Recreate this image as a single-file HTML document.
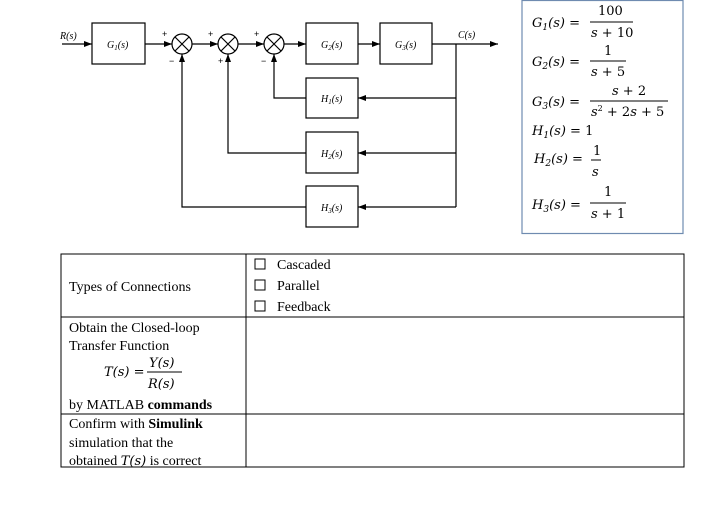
<!DOCTYPE html>
<html><head><meta charset="utf-8"><style>
body{margin:0;background:#fff;}
svg{display:block;}
.t{font-family:"Liberation Serif",serif;font-size:14px;fill:#000;}
.d{font-family:"Liberation Serif",serif;font-style:italic;font-size:10px;fill:#000;}
.m{font-family:"DejaVu Serif","Liberation Serif",serif;font-size:13px;fill:#000;}
.mi{font-family:"DejaVu Serif","Liberation Serif",serif;font-style:italic;font-size:13px;fill:#000;}
</style></head><body>
<svg width="707" height="527" viewBox="0 0 707 527" xmlns="http://www.w3.org/2000/svg">
<defs><marker id="a" markerWidth="8" markerHeight="6" refX="8" refY="3" orient="auto" markerUnits="userSpaceOnUse"><path d="M0,0 L8,3 L0,6z" fill="#000"/></marker></defs>
<g stroke="#000" stroke-width="1.2" fill="none">
<rect x="92" y="23" width="53" height="41"/>
<rect x="306" y="23" width="52" height="41"/>
<rect x="380" y="23" width="52" height="41"/>
<rect x="306" y="78" width="52" height="40"/>
<rect x="306" y="132" width="52" height="41"/>
<rect x="306" y="186" width="52" height="41"/>
<circle cx="182" cy="44" r="10"/><circle cx="228" cy="44" r="10"/><circle cx="274" cy="44" r="10"/>
<path d="M175,37 L189,51 M189,37 L175,51 M221,37 L235,51 M235,37 L221,51 M267,37 L281,51 M281,37 L267,51"/>
<line x1="62" y1="44" x2="92" y2="44" marker-end="url(#a)"/>
<line x1="145" y1="44" x2="172" y2="44" marker-end="url(#a)"/>
<line x1="192" y1="44" x2="218" y2="44" marker-end="url(#a)"/>
<line x1="238" y1="44" x2="264" y2="44" marker-end="url(#a)"/>
<line x1="284" y1="44" x2="306" y2="44" marker-end="url(#a)"/>
<line x1="358" y1="44" x2="380" y2="44" marker-end="url(#a)"/>
<line x1="432" y1="44" x2="498" y2="44" marker-end="url(#a)"/>
<polyline points="456,44 456,207"/>
<line x1="456" y1="98" x2="358" y2="98" marker-end="url(#a)"/>
<line x1="456" y1="153" x2="358" y2="153" marker-end="url(#a)"/>
<line x1="456" y1="207" x2="358" y2="207" marker-end="url(#a)"/>
<polyline points="306,98 274,98 274,54" marker-end="url(#a)"/>
<polyline points="306,153 228,153 228,54" marker-end="url(#a)"/>
<polyline points="306,207 182,207 182,54" marker-end="url(#a)"/>
</g>
<text class="d" x="60" y="39">R(s)</text>
<text class="d" x="107" y="48">G<tspan font-size="7" dy="2">1</tspan><tspan dy="-2">(s)</tspan></text>
<text class="d" x="321" y="48">G<tspan font-size="7" dy="2">2</tspan><tspan dy="-2">(s)</tspan></text>
<text class="d" x="395" y="48">G<tspan font-size="7" dy="2">3</tspan><tspan dy="-2">(s)</tspan></text>
<text class="d" x="321" y="102">H<tspan font-size="7" dy="2">1</tspan><tspan dy="-2">(s)</tspan></text>
<text class="d" x="321" y="157">H<tspan font-size="7" dy="2">2</tspan><tspan dy="-2">(s)</tspan></text>
<text class="d" x="321" y="211">H<tspan font-size="7" dy="2">3</tspan><tspan dy="-2">(s)</tspan></text>
<text class="d" x="458" y="38">C(s)</text>
<g font-family="Liberation Sans,sans-serif" font-size="9" fill="#000">
<text x="162" y="37">+</text><text x="169" y="64">−</text>
<text x="208" y="37">+</text><text x="218" y="64">+</text>
<text x="254" y="37">+</text><text x="261" y="64">−</text>
</g>
<rect x="522" y="0.5" width="161" height="233" fill="none" stroke="#6f8bb0" stroke-width="1.2"/>
<g>
<text class="mi" x="532" y="27">G<tspan font-size="9" dy="3">1</tspan><tspan dy="-3">(s) =</tspan></text>
<text class="m" x="598" y="15">100</text><line x1="590" y1="22" x2="633" y2="22" stroke="#000"/><text class="m" x="591" y="37"><tspan font-style="italic">s</tspan> + 10</text>
<text class="mi" x="532" y="66">G<tspan font-size="9" dy="3">2</tspan><tspan dy="-3">(s) =</tspan></text>
<text class="m" x="604" y="55">1</text><line x1="590" y1="61" x2="626" y2="61" stroke="#000"/><text class="m" x="591" y="76"><tspan font-style="italic">s</tspan> + 5</text>
<text class="mi" x="532" y="106">G<tspan font-size="9" dy="3">3</tspan><tspan dy="-3">(s) =</tspan></text>
<text class="m" x="612" y="95"><tspan font-style="italic">s</tspan> + 2</text><line x1="590" y1="101" x2="668" y2="101" stroke="#000"/><text class="m" x="591" y="116"><tspan font-style="italic">s</tspan><tspan font-size="8" dy="-5">2</tspan><tspan dy="5"> + 2</tspan><tspan font-style="italic">s</tspan> + 5</text>
<text class="mi" x="532" y="135">H<tspan font-size="9" dy="3">1</tspan><tspan dy="-3">(s) = </tspan><tspan font-style="normal">1</tspan></text>
<text class="mi" x="534" y="163">H<tspan font-size="9" dy="3">2</tspan><tspan dy="-3">(s) =</tspan></text>
<text class="m" x="593" y="155">1</text><line x1="591" y1="160" x2="601" y2="160" stroke="#000"/><text class="mi" x="592" y="176">s</text>
<text class="mi" x="532" y="209">H<tspan font-size="9" dy="3">3</tspan><tspan dy="-3">(s) =</tspan></text>
<text class="m" x="604" y="196">1</text><line x1="590" y1="203" x2="626" y2="203" stroke="#000"/><text class="m" x="591" y="218"><tspan font-style="italic">s</tspan> + 1</text>
</g>
<g stroke="#000" stroke-width="1" fill="none">
<rect x="61" y="254" width="623" height="213"/>
<line x1="246" y1="254" x2="246" y2="467"/>
<line x1="61" y1="317" x2="684" y2="317"/>
<line x1="61" y1="414" x2="684" y2="414"/>
<rect x="255" y="259" width="10" height="10"/>
<rect x="255" y="280" width="10" height="10"/>
<rect x="255" y="301" width="10" height="10"/>
</g>
<text class="t" x="277" y="269">Cascaded</text>
<text class="t" x="277" y="290">Parallel</text>
<text class="t" x="277" y="311">Feedback</text>
<text class="t" x="69" y="291">Types of Connections</text>
<text class="t" x="69" y="332">Obtain the Closed-loop</text>
<text class="t" x="69" y="350">Transfer Function</text>
<text class="mi" x="104" y="376">T(s) =</text>
<text class="mi" x="149" y="367">Y(s)</text><line x1="147" y1="372" x2="182" y2="372" stroke="#000"/><text class="mi" x="148" y="388">R(s)</text>
<text class="t" x="69" y="409">by MATLAB <tspan font-weight="bold">commands</tspan></text>
<text class="t" x="69" y="428">Confirm with <tspan font-weight="bold">Simulink</tspan></text>
<text class="t" x="69" y="447">simulation that the</text>
<text class="t" x="69" y="465">obtained <tspan font-style="italic" font-family="DejaVu Serif,serif" font-size="13">T(s)</tspan> is correct</text>
</svg>
</body></html>
